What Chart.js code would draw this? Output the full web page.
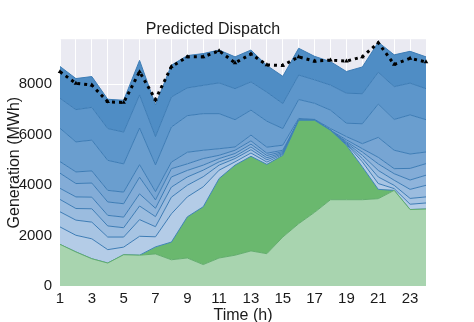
<!DOCTYPE html>
<html>
<head>
<meta charset="utf-8">
<script src="https://cdn.jsdelivr.net/npm/chart.js@4"></script>
<style>
  html, body { margin: 0; padding: 0; background: #ffffff; }
  #wrap { width: 474px; height: 322px; }
</style>
</head>
<body>
<div id="wrap"><canvas id="chart" width="474" height="322"></canvas></div>
<script>
// hours of the day
const hours = [1,2,3,4,5,6,7,8,9,10,11,12,13,14,15,16,17,18,19,20,21,22,23,24];
const xTickLabels = ["1","3","5","7","9","11","13","15","17","19","21","23"];
const yTickValues = [0, 2000, 4000, 6000, 8000];

// generation per source (MWh), bottom of the stack first
const greenLight = [1650,1350,1080,910,1240,1220,1270,1040,1110,850,1110,1220,1390,1280,1940,2470,2920,3420,3420,3420,3460,3790,3030,3050];
const greenDark  = [0,0,0,0,0,0,280,700,1630,2290,3150,3570,3750,3540,3240,4100,3650,2750,2160,1300,370,0,0,0];
const unit1 = [690,660,790,530,300,750,400,1120,790,790,330,130,130,90,40,0,0,0,40,200,230,70,210,240];
const unit2 = [600,600,660,500,400,660,400,660,460,400,200,130,130,90,30,0,0,0,30,130,260,130,230,240];
const unit3 = [490,460,530,440,370,540,400,400,330,260,130,90,110,80,40,0,0,0,30,130,260,200,360,460];
const unit4 = [440,460,460,420,420,480,330,400,260,200,130,110,110,90,40,0,0,0,40,130,260,260,370,400];
const unit5 = [600,530,560,530,530,660,330,330,260,260,130,130,130,90,50,0,0,0,70,130,260,200,460,460];
const unit6 = [460,460,480,460,460,500,330,260,460,330,260,130,230,240,200,70,30,70,130,200,790,730,570,460];
const unit7 = [1320,1190,1220,1190,1120,1450,1060,1390,1450,1450,1390,1080,990,1030,660,750,640,730,530,790,1320,1220,1550,1280];
const unit8 = [1190,1280,1300,1260,1260,1310,1120,1190,1100,1120,1220,1230,1120,1150,990,970,930,990,1190,1190,1260,1300,1260,1230];
const unit9 = [1260,1230,1220,1160,1260,1370,1260,1260,1280,1260,1300,1260,1260,1060,1080,1060,930,930,860,1060,1190,1260,1260,1260];
// predicted demand (dotted line)
const demand = [8490,8030,7960,7300,7270,8490,7390,8690,9080,9080,9320,8840,9190,8760,8740,9080,8910,8950,8910,9080,9640,8780,9020,8880];

const units = [unit1, unit2, unit3, unit4, unit5, unit6, unit7, unit8, unit9];
const unitColors = ["#b4cce7","#a7c4e3","#9bbcdf","#8fb4db","#83acd7","#77a5d3","#6a9ecf","#5d96cb","#4f8dc5"];

document.addEventListener("DOMContentLoaded", function () {
  var ctx = document.getElementById("chart");

  var datasets = [{
    label: "Demand",
    data: demand,
    stack: "demand",
    borderColor: "#000000",
    backgroundColor: "#000000",
    borderWidth: 3,
    borderDash: [3, 4],
    pointStyle: "triangle",
    pointRadius: 2.6,
    pointBorderWidth: 0,
    fill: false,
    tension: 0
  }, {
    label: "Green 1",
    data: greenLight,
    stack: "gen",
    borderColor: "#62ad6d",
    backgroundColor: "#a8d4af",
    borderWidth: 1,
    pointRadius: 0,
    fill: "origin"
  }, {
    label: "Green 2",
    data: greenDark,
    stack: "gen",
    borderColor: "#3f84b8",
    backgroundColor: "#6ab86e",
    borderWidth: 1,
    pointRadius: 0,
    fill: "-1"
  }];

  units.forEach(function (u, i) {
    datasets.push({
      label: "Unit " + (i + 1),
      data: u,
      stack: "gen",
      borderColor: "#3d7cb5",
      backgroundColor: unitColors[i],
      borderWidth: 1,
      pointRadius: 0,
      fill: "-1"
    });
  });

  var plotBg = {
    id: "plotBg",
    beforeDraw: function (chart) {
      var a = chart.chartArea;
      chart.ctx.save();
      chart.ctx.fillStyle = "#eaeaf2";
      chart.ctx.fillRect(a.left, a.top, a.right - a.left, a.bottom - a.top);
      chart.ctx.restore();
    }
  };

  var font = "'Liberation Sans', Arial, sans-serif";

  new Chart(ctx, {
    type: "line",
    data: { labels: hours, datasets: datasets },
    plugins: [plotBg],
    options: {
      responsive: false,
      animation: false,
      layout: { padding: { left: 0, right: 48, top: 0, bottom: 0 } },
      elements: { line: { tension: 0 } },
      plugins: {
        legend: { display: false },
        tooltip: { enabled: false },
        title: {
          display: true,
          text: "Predicted Dispatch",
          color: "#1a1a1a",
          font: { family: font, size: 16, weight: "normal" },
          padding: { top: 20, bottom: 0 }
        }
      },
      scales: {
        x: {
          offset: false,
          grid: { color: "#ffffff", drawTicks: false },
          border: { display: false },
          ticks: {
            autoSkip: false,
            maxRotation: 0,
            padding: 4,
            color: "#1a1a1a",
            font: { family: font, size: 15 },
            callback: function (val, i) {
              return xTickLabels.indexOf(String(hours[i])) >= 0 ? String(hours[i]) : "";
            }
          },
          title: {
            display: true,
            text: "Time (h)",
            color: "#1a1a1a",
            font: { family: font, size: 16 },
            padding: { top: 0, bottom: -3 }
          },
          afterFit: function (s) { s.height = 36; }
        },
        y: {
          stacked: true,
          min: 0,
          max: 9780,
          grid: { color: "#ffffff", drawTicks: false },
          border: { display: false },
          afterBuildTicks: function (s) {
            s.ticks = yTickValues.map(function (v) { return { value: v }; });
          },
          ticks: {
            padding: 8,
            color: "#1a1a1a",
            font: { family: font, size: 15 },
            callback: function (v) { return String(v); }
          },
          title: {
            display: true,
            text: "Generation (MWh)",
            color: "#1a1a1a",
            font: { family: font, size: 16 },
            padding: { top: 5, bottom: 0 }
          },
          afterFit: function (s) { s.width = 60; }
        }
      }
    }
  });
});
</script>
</body>
</html>
